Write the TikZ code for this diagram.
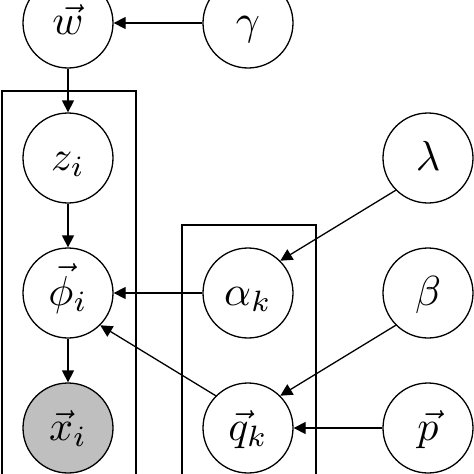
\documentclass[tikz,border=0pt]{standalone}
\usepackage{graphicx}
\usetikzlibrary{arrows.meta}
\newcommand\mlbl[1]{\raisebox{-12pt}[0pt][0pt]{\scalebox{4.2}{$#1$}}}
\begin{document}
\begin{tikzpicture}[x=1pt,y=-1pt,
  var/.style={circle,draw,line width=1.3pt,minimum size=90pt,inner sep=0pt},
  obs/.style={var,fill=black!25},
  edge/.style={line width=1.3pt,-{Triangle[length=12pt,width=12pt]}},
  plate/.style={draw,line width=1.3pt}]
\useasboundingbox (0,0) rectangle (474,474);
\node[var] (w) at (68,23) {\mlbl{\vec{w}}};
\node[var] (g) at (248,23) {\mlbl{\gamma}};
\node[var] (z) at (68,158) {\mlbl{z_i}};
\node[var] (l) at (428,158) {\mlbl{\lambda}};
\node[var] (phi) at (68,293) {\mlbl{\vec{\phi}_i}};
\node[var] (a) at (248,293) {\mlbl{\alpha_k}};
\node[var] (b) at (428,293) {\mlbl{\beta}};
\node[obs] (x) at (68,428) {\mlbl{\vec{x}_i}};
\node[var] (q) at (248,428) {\mlbl{\vec{q}_k}};
\node[var] (p) at (428,428) {\mlbl{\vec{p}}};
\draw[plate] (2,480) -- (2,91) -- (136,91) -- (136,480);
\draw[plate] (182,480) -- (182,225) -- (316,225) -- (316,480);
\draw[edge] (g) -- (w);
\draw[edge] (w) -- (z);
\draw[edge] (z) -- (phi);
\draw[edge] (phi) -- (x);
\draw[edge] (a) -- (phi);
\draw[edge] (q.north west) -- (phi.south east);
\draw[edge] (l.south west) -- (a.north east);
\draw[edge] (b.south west) -- (q.north east);
\draw[edge] (p) -- (q);
\end{tikzpicture}
\end{document}
